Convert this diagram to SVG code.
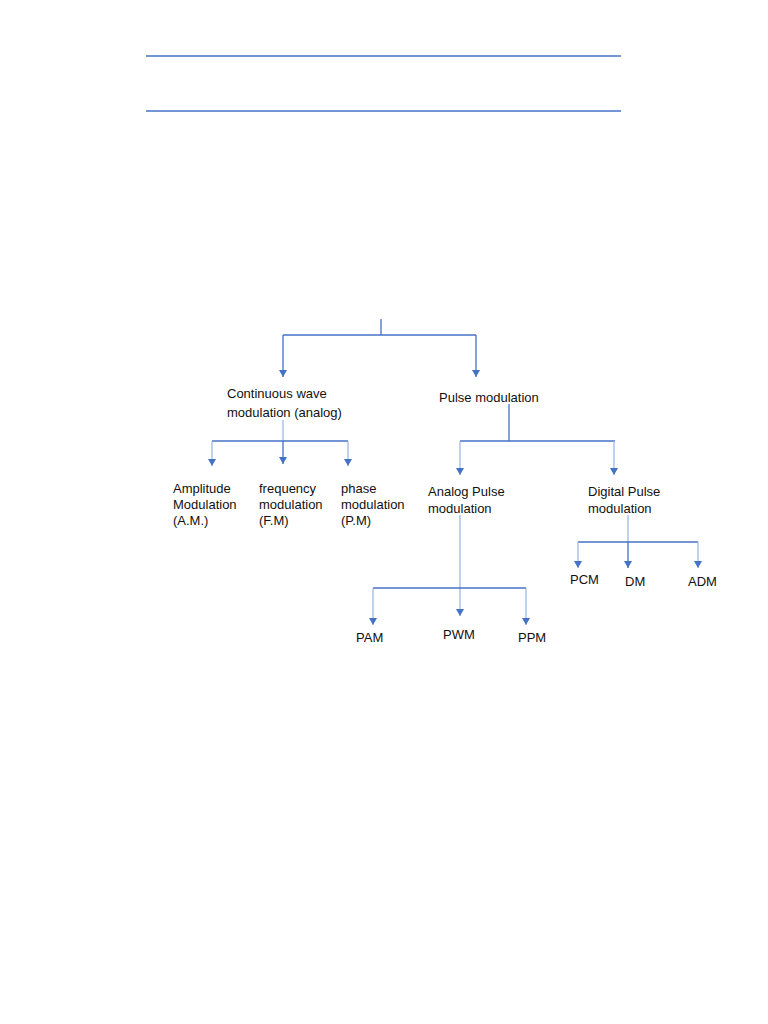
<svg xmlns="http://www.w3.org/2000/svg" width="768" height="1024" viewBox="0 0 768 1024">
<style>
.l{stroke:#4472C4;stroke-width:1.3;fill:none}
.p{stroke:#9DB9E6;stroke-width:1.3;fill:none}
.a{marker-end:url(#ah)}
text{font-family:"Liberation Sans",Arial,sans-serif;font-size:13px;fill:#111}
</style>
<defs>
<marker id="ah" markerUnits="userSpaceOnUse" markerWidth="10" markerHeight="10" viewBox="0 0 10 10" refX="7" refY="5" orient="auto">
<path d="M0,1 L7,5 L0,9 Z" fill="#4472C4"/>
</marker>
</defs>
<rect width="768" height="1024" fill="#fff"/>
<g id="rules">
<line class="l" x1="146" y1="56" x2="621" y2="56"/>
<line class="l" x1="146" y1="111" x2="621" y2="111"/>
</g>
<g id="connectors">
<line class="l" x1="381" y1="319" x2="381" y2="335"/>
<line class="l" x1="283" y1="335" x2="476" y2="335"/>
<line class="l a" x1="283" y1="335" x2="283" y2="377"/>
<line class="l a" x1="476" y1="335" x2="476" y2="377"/>
<line class="p" x1="283" y1="420" x2="283" y2="441"/>
<line class="l" x1="212" y1="441" x2="348" y2="441"/>
<line class="p a" x1="212" y1="441" x2="212" y2="466"/>
<line class="l a" x1="283" y1="441" x2="283" y2="464"/>
<line class="p a" x1="348" y1="441" x2="348" y2="466"/>
<line class="l" x1="509" y1="404" x2="509" y2="441"/>
<line class="l" x1="460" y1="441" x2="615" y2="441"/>
<line class="p a" x1="460" y1="441" x2="460" y2="475"/>
<line class="p a" x1="614" y1="441" x2="614" y2="475"/>
<line class="p a" x1="460" y1="515" x2="460" y2="616"/>
<line class="l" x1="373" y1="588" x2="526" y2="588"/>
<line class="p a" x1="373" y1="588" x2="373" y2="625"/>
<line class="p a" x1="526" y1="588" x2="526" y2="625"/>
<line class="p" x1="628" y1="515" x2="628" y2="542"/>
<line class="l" x1="578" y1="542" x2="698" y2="542"/>
<line class="p a" x1="578" y1="542" x2="578" y2="568"/>
<line class="l a" x1="628" y1="542" x2="628" y2="568"/>
<line class="p a" x1="698" y1="542" x2="698" y2="568"/>
</g>
<g id="n-cw"><text x="227" y="398">Continuous wave</text><text x="227" y="417">modulation (analog)</text></g>
<g id="n-pulse"><text x="439" y="402">Pulse modulation</text></g>
<g id="n-am"><text x="173" y="493">Amplitude</text><text x="173" y="509">Modulation</text><text x="173" y="525">(A.M.)</text></g>
<g id="n-fm"><text x="259" y="493">frequency</text><text x="259" y="509">modulation</text><text x="259" y="525">(F.M)</text></g>
<g id="n-pm"><text x="341" y="493">phase</text><text x="341" y="509">modulation</text><text x="341" y="525">(P.M)</text></g>
<g id="n-apm"><text x="428" y="496">Analog Pulse</text><text x="428" y="513">modulation</text></g>
<g id="n-dpm"><text x="588" y="496">Digital Pulse</text><text x="588" y="513">modulation</text></g>
<g id="n-pam"><text x="356" y="642">PAM</text></g>
<g id="n-pwm"><text x="443" y="639">PWM</text></g>
<g id="n-ppm"><text x="518" y="642">PPM</text></g>
<g id="n-pcm"><text x="570" y="584">PCM</text></g>
<g id="n-dm"><text x="625" y="586">DM</text></g>
<g id="n-adm"><text x="688" y="586">ADM</text></g>
</svg>
